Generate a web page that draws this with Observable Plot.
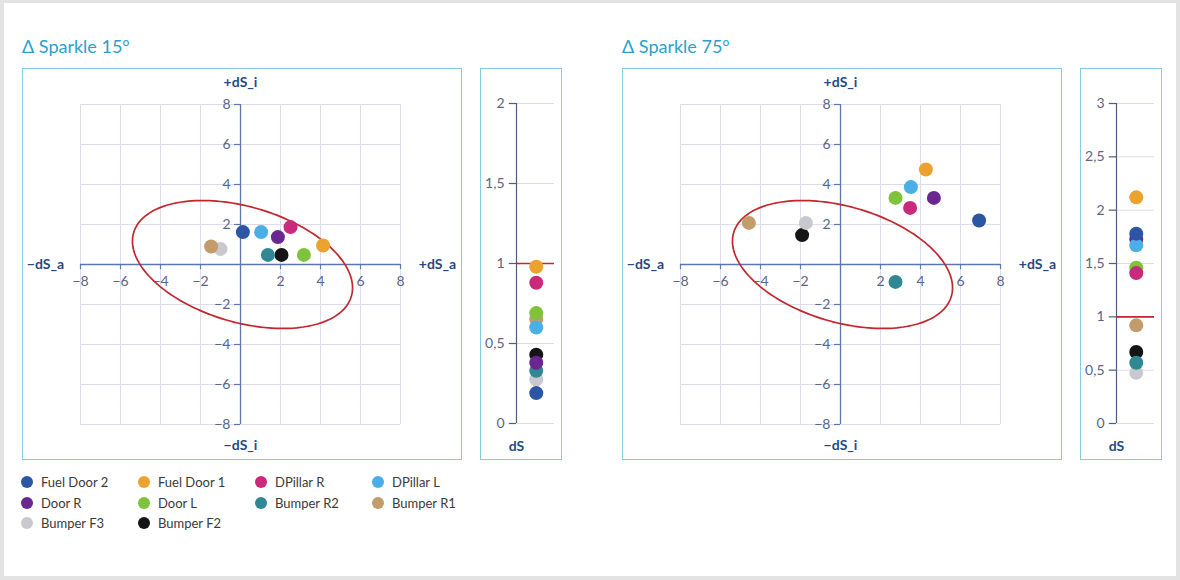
<!DOCTYPE html>
<html><head><meta charset="utf-8">
<script src="https://cdn.jsdelivr.net/npm/d3@7"></script>
<script src="https://cdn.jsdelivr.net/npm/@observablehq/plot@0.6"></script>
<style>
body{margin:0;background:#fff;font-family:Lato,"Open Sans",sans-serif;}
#page{position:relative;width:1180px;height:580px;overflow:hidden;background:#fff;}
#frame{position:absolute;left:0;top:0;width:1180px;height:580px;box-sizing:border-box;border:4px solid #e3e3e3;border-top-width:3px;pointer-events:none;}
.slot{position:absolute;}
.slot svg{display:block;}
.box{position:absolute;box-sizing:border-box;border:1.5px solid #84cddd;pointer-events:none;}
.title{position:absolute;font-size:18px;line-height:18px;color:#2c9fca;white-space:nowrap;}
.leg{position:absolute;font-size:13px;line-height:14px;color:#3a3a3a;white-space:nowrap;}
.sw{position:absolute;width:12px;height:12px;border-radius:50%;}
</style></head>
<body><div id="page"></div>
<script>
// ---- data ----
const parts = ["Fuel Door 2","Fuel Door 1","DPillar R","DPillar L","Door R","Door L","Bumper R2","Bumper R1","Bumper F3","Bumper F2"];
const partColors = ["#2a56a4","#eca22f","#c92a7c","#4aafe6","#6b2791","#7ec33b","#2f8893","#c39c6b","#c8c9ce","#151515"];
// Δ Sparkle 15°
const s15_dSa = [0.12, 4.13, 2.5, 1.03, 1.87, 3.17, 1.37, -1.47, -1.0, 2.05];
const s15_dSi = [1.62, 0.95, 1.87, 1.62, 1.37, 0.48, 0.48, 0.9, 0.78, 0.48];
const s15_dS  = [0.19, 0.98, 0.88, 0.60, 0.38, 0.69, 0.33, 0.65, 0.275, 0.43];
// Δ Sparkle 75°
const s75_dSa = [6.93, 4.27, 3.48, 3.52, 4.67, 2.75, 2.75, -4.58, -1.73, -1.92];
const s75_dSi = [2.2, 4.75, 2.83, 3.87, 3.33, 3.33, -0.87, 2.08, 2.08, 1.47];
const s75_dS  = [1.78, 2.12, 1.41, 1.67, 1.73, 1.46, 0.57, 0.92, 0.475, 0.67];
// axes / ticks
const gridTicks = [-8,-6,-4,-2,0,2,4,6,8];
const scatterTicks = [-8,-6,-4,-2,2,4,6,8];
const dsTicks15 = [0,0.5,1,1.5,2];
const dsTicks75 = [0,0.5,1,1.5,2,2.5,3];
const dsLimit = [1];
// tolerance ellipse: center, semi-axes, rotation (deg)
const ellipseCenter = [0.1, 0];
const ellipseAxes = [5.67, 2.89];
const ellipseAngle = [-16.3];

const titles = ["Δ Sparkle 15°", "Δ Sparkle 75°"];

// ---- helpers ----
const FONT = 'Lato, "Open Sans", sans-serif';
const fmt = d => (d < 0 ? "\u2212" + String(-d) : String(d)).replace(".", ",");
const GRID = "#dcdcec", AXIS = "#5878aa", TICKTXT = "#5a6582", LBL = "#1f4b86", RED = "#c1272d";

function ellipsePts() {
  const [cx, cy] = ellipseCenter, [a, b] = ellipseAxes, p = ellipseAngle[0] * Math.PI / 180;
  return d3.range(0, 361, 2).map(t => {
    const r = t * Math.PI / 180;
    return {x: cx + a*Math.cos(r)*Math.cos(p) - b*Math.sin(r)*Math.sin(p),
            y: cy + a*Math.cos(r)*Math.sin(p) + b*Math.sin(r)*Math.cos(p)};
  });
}

function scatter(dSa, dSi) {
  const data = parts.map((p, i) => ({part: p, a: dSa[i], i: dSi[i]})).reverse();
  return Plot.plot({
    width: 440, height: 392,
    marginLeft: 58, marginRight: 62, marginTop: 36, marginBottom: 36,
    x: {domain: [-8, 8], axis: null},
    y: {domain: [-8, 8], axis: null},
    color: {domain: parts, range: partColors},
    style: {fontFamily: FONT, fontSize: "14px", background: "transparent", overflow: "visible"},
    marks: [
      Plot.ruleX(gridTicks, {x: d => d, y1: -8, y2: 8, stroke: GRID, strokeWidth: 1}),
      Plot.ruleY(gridTicks, {y: d => d, x1: -8, x2: 8, stroke: GRID, strokeWidth: 1}),
      Plot.ruleX([0], {y1: -8, y2: 8, stroke: AXIS, strokeWidth: 1.3}),
      Plot.ruleY([0], {x1: -8, x2: 8, stroke: AXIS, strokeWidth: 1.3}),
      Plot.ruleX(scatterTicks, {x: d => d, y1: 0, y2: -0.25, stroke: AXIS, strokeWidth: 1.2}),
      Plot.ruleY(scatterTicks, {y: d => d, x1: 0, x2: -0.3, stroke: AXIS, strokeWidth: 1.2}),
      Plot.text(scatterTicks, {x: d => d, y: 0, dy: 17, text: fmt, fill: TICKTXT}),
      Plot.text(scatterTicks, {x: 0, y: d => d, dx: -10, textAnchor: "end", text: fmt, fill: TICKTXT}),
      Plot.line(ellipsePts(), {x: "x", y: "y", stroke: RED, strokeWidth: 1.7}),
      Plot.dot(data, {x: "a", y: "i", fill: "part", r: 7}),
      Plot.text(["+dS_i"], {x: 0, y: 8, dy: -22, text: d => d, fill: LBL, fontWeight: "bold"}),
      Plot.text(["\u2212dS_i"], {x: 0, y: -8, dy: 21, text: d => d, fill: LBL, fontWeight: "bold"}),
      Plot.text(["\u2212dS_a"], {x: -8, y: 0, dx: -35, text: d => d, fill: LBL, fontWeight: "bold"}),
      Plot.text(["+dS_a"], {x: 8, y: 0, dx: 37, text: d => d, fill: LBL, fontWeight: "bold"})
    ]
  });
}

function strip(values, ticks) {
  const max = ticks[ticks.length - 1];
  const data = parts.map((p, i) => ({part: p, v: values[i]})).reverse();
  return Plot.plot({
    width: 82, height: 392,
    marginLeft: 36, marginRight: 8, marginTop: 35, marginBottom: 37,
    x: {domain: [0, 1], axis: null},
    y: {domain: [0, max], axis: null},
    color: {domain: parts, range: partColors},
    style: {fontFamily: FONT, fontSize: "14px", background: "transparent", overflow: "visible"},
    marks: [
      Plot.ruleY(ticks, {y: d => d, x1: 0, x2: 1, stroke: GRID, strokeWidth: 1}),
      Plot.ruleX([0], {y1: 0, y2: max, stroke: "#4f5c7c", strokeWidth: 1.2}),
      Plot.ruleY(ticks, {y: d => d, x1: -0.19, x2: 0, stroke: "#4f5c7c", strokeWidth: 1.2}),
      Plot.text(ticks, {x: 0, y: d => d, dx: -12, textAnchor: "end", text: fmt, fill: TICKTXT}),
      Plot.ruleY(dsLimit, {y: d => d, x1: 0, x2: 1, stroke: RED, strokeWidth: 1.6}),
      Plot.dot(data, {x: 0.52, y: "v", fill: "part", r: 7}),
      Plot.text(["dS"], {x: 0, y: 0, dy: 23, text: d => d, fill: LBL, fontWeight: "bold"})
    ]
  });
}

// ---- layout ----
const page = document.getElementById("page");
function place(node, left, top, w, h) {
  const s = document.createElement("div");
  s.className = "slot";
  s.style.left = left + "px"; s.style.top = top + "px";
  s.appendChild(node); page.appendChild(s);
  const b = document.createElement("div");
  b.className = "box";
  b.style.left = left + "px"; b.style.top = top + "px";
  b.style.width = w + "px"; b.style.height = h + "px";
  page.appendChild(b);
}
place(scatter(s15_dSa, s15_dSi), 22, 68, 440, 392);
place(strip(s15_dS, dsTicks15), 480, 68, 82, 392);
place(scatter(s75_dSa, s75_dSi), 622, 68, 440, 392);
place(strip(s75_dS, dsTicks75), 1080, 68, 82, 392);

[[titles[0], 22], [titles[1], 622]].forEach(([t, x]) => {
  const d = document.createElement("div");
  d.className = "title"; d.textContent = t;
  d.style.left = x + "px"; d.style.top = "37px";
  page.appendChild(d);
});

// legend (4 columns, row-major)
const colX = [27, 144, 261, 378], rowY = [482, 503, 523];
parts.forEach((p, i) => {
  const cx = colX[i % 4], cy = rowY[Math.floor(i / 4)];
  const sw = document.createElement("div");
  sw.className = "sw"; sw.style.background = partColors[i];
  sw.style.left = (cx - 6) + "px"; sw.style.top = (cy - 6) + "px";
  page.appendChild(sw);
  const t = document.createElement("div");
  t.className = "leg"; t.textContent = p;
  t.style.left = (cx + 14) + "px"; t.style.top = (cy - 7) + "px";
  page.appendChild(t);
});

const fr = document.createElement("div"); fr.id = "frame"; page.appendChild(fr);
</script>
</body></html>
